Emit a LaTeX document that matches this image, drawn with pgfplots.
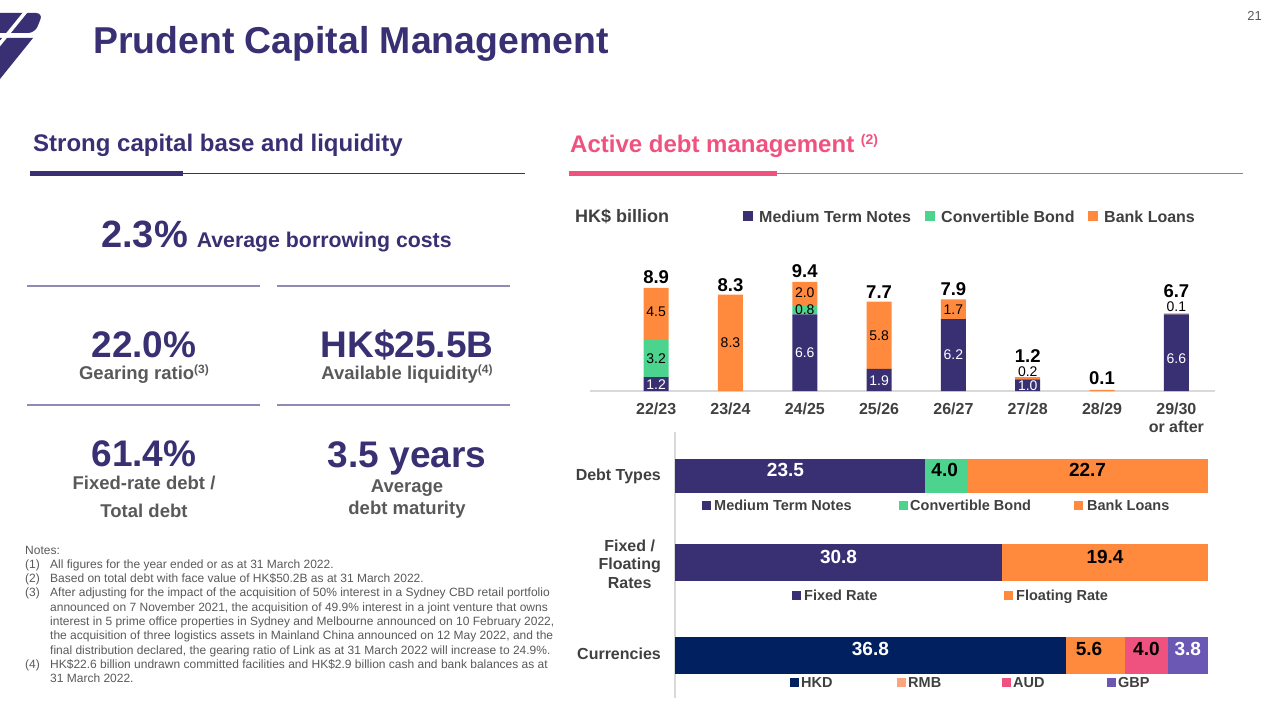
\documentclass[border=0pt]{standalone}
\usepackage{fontspec}
\setmainfont{Liberation Sans}
\usepackage{pgfplots}
\pgfplotsset{compat=1.18}
\definecolor{cpurple}{RGB}{56,48,115}
\definecolor{cpink}{RGB}{240,82,127}
\definecolor{cgreen}{RGB}{76,211,142}
\definecolor{corange}{RGB}{255,138,61}
\definecolor{csalmon}{RGB}{251,165,125}
\definecolor{cnavy}{RGB}{0,32,96}
\definecolor{cgbp}{RGB}{107,88,181}
\definecolor{tgray}{RGB}{64,64,64}
\definecolor{lgray}{RGB}{89,89,89}
\definecolor{sepc}{RGB}{143,139,181}
\definecolor{axgray}{RGB}{217,217,217}
\newcommand\myfs[2]{\fontsize{#1}{#2}\selectfont}
\begin{document}
\begin{tikzpicture}
\useasboundingbox (0,0) rectangle (1273pt,-714pt);
\begin{scope}[x=1pt,y=-1pt]
% logo
\fill[cpurple,rounded corners=7pt] (-12,13) -- (43,13) -- (35,33) -- (-12,33) -- cycle;
\fill[cpurple] (0,38) -- (33,38) -- (0,79) -- cycle;
\draw[white,line width=3.5pt] (28,9) -- (-2,46);
% page number
\node[anchor=base east,inner sep=0,text=lgray,font=\myfs{13}{13}] at (1262,21) {21};
% title
\node[anchor=base west,inner sep=0,text=cpurple,font=\myfs{37.4}{40}\bfseries] at (93,54) {Prudent Capital Management};
% section headings
\node[anchor=base west,inner sep=0,text=cpurple,font=\myfs{24}{26}\bfseries] at (33,152) {Strong capital base and liquidity};
\fill[cpurple] (30,171) rectangle (183,176);
\draw[cpurple,line width=1.2pt] (183,173.5) -- (525,173.5);
\node[anchor=base west,inner sep=0,text=cpink,font=\myfs{24}{26}\bfseries] at (570,153) {Active debt management \raisebox{8pt}{\myfs{14}{14}(2)}};
\fill[cpink] (569,171) rectangle (777,176);
\draw[cpink,line width=1.2pt] (777,173.5) -- (1243,173.5);
% left KPIs
\node[anchor=base west,inner sep=0,text=cpurple,font=\bfseries] at (101,247) {\myfs{38}{40}2.3\%\hspace{9pt}\myfs{21.3}{22}Average borrowing costs};
\foreach \yy in {286,405}{
  \draw[sepc,line width=1.5pt] (27,\yy) -- (260,\yy);
  \draw[sepc,line width=1.5pt] (277,\yy) -- (510,\yy);
}
\node[anchor=base,inner sep=0,text=cpurple,font=\myfs{37}{40}\bfseries] at (144,357) {22.0\%};
\node[anchor=base,inner sep=0,text=lgray,font=\myfs{18.5}{20}\bfseries] at (144,379) {Gearing ratio\raisebox{6pt}{\myfs{12}{12}(3)}};
\node[anchor=base,inner sep=0,text=cpurple,font=\myfs{37}{40}\bfseries] at (407,357) {HK\$25.5B};
\node[anchor=base,inner sep=0,text=lgray,font=\myfs{18.5}{20}\bfseries] at (407,379) {Available liquidity\raisebox{6pt}{\myfs{12}{12}(4)}};
\node[anchor=base,inner sep=0,text=cpurple,font=\myfs{37}{40}\bfseries] at (144,466) {61.4\%};
\node[anchor=base,inner sep=0,text=lgray,font=\myfs{18.5}{20}\bfseries] at (144,489) {Fixed-rate debt /};
\node[anchor=base,inner sep=0,text=lgray,font=\myfs{18.5}{20}\bfseries] at (144,517) {Total debt};
\node[anchor=base,inner sep=0,text=cpurple,font=\myfs{37}{40}\bfseries] at (407,467) {3.5 years};
\node[anchor=base,inner sep=0,text=lgray,font=\myfs{18.5}{20}\bfseries] at (407,492) {Average};
\node[anchor=base,inner sep=0,text=lgray,font=\myfs{18.5}{20}\bfseries] at (407,514) {debt maturity};
% notes
\begin{scope}[every node/.style={anchor=base west,inner sep=0,text=lgray,font=\myfs{12}{13}}]
\node at (25,554) {Notes:};
\node at (25,568.3) {(1)}; \node at (50,568.3) {All figures for the year ended or as at 31 March 2022.};
\node at (25,582.6) {(2)}; \node at (50,582.6) {Based on total debt with face value of HK\$50.2B as at 31 March 2022.};
\node at (25,596.9) {(3)}; \node at (50,596.9) {After adjusting for the impact of the acquisition of 50\% interest in a Sydney CBD retail portfolio};
\node at (50,611.2) {announced on 7 November 2021, the acquisition of 49.9\% interest in a joint venture that owns};
\node at (50,625.5) {interest in 5 prime office properties in Sydney and Melbourne announced on 10 February 2022,};
\node at (50,639.8) {the acquisition of three logistics assets in Mainland China announced on 12 May 2022, and the};
\node at (50,654.1) {final distribution declared, the gearing ratio of Link as at 31 March 2022 will increase to 24.9\%.};
\node at (25,668.4) {(4)}; \node at (50,668.4) {HK\$22.6 billion undrawn committed facilities and HK\$2.9 billion cash and bank balances as at};
\node at (50,682.7) {31 March 2022.};
\end{scope}
% right top header and legend
\node[anchor=base west,inner sep=0,text=tgray,font=\myfs{18}{20}\bfseries] at (575,222) {HK\$ billion};
\begin{scope}[every node/.style={anchor=base west,inner sep=0,text=tgray,font=\myfs{16}{18}\bfseries}]
\fill[cpurple] (743,211) rectangle (753,221); \node at (759,222) {Medium Term Notes};
\fill[cgreen] (925,211) rectangle (935,221); \node at (941,222) {Convertible Bond};
\fill[corange] (1088,211) rectangle (1098,221); \node at (1104,222) {Bank Loans};
\end{scope}
% bottom category labels
\node[anchor=east,inner sep=0,text=tgray,font=\myfs{16}{18}\bfseries] at (661,476) {Debt Types};
\node[anchor=east,inner sep=0,align=center,text=tgray,font=\myfs{16}{18.5}\bfseries] at (661,564) {Fixed /\\Floating\\Rates};
\node[anchor=east,inner sep=0,text=tgray,font=\myfs{16}{18}\bfseries] at (661,654) {Currencies};
\draw[axgray,line width=1.2pt] (675,432) -- (675,698);
% bottom legends
\begin{scope}[every node/.style={anchor=base west,inner sep=0,text=tgray,font=\myfs{14.5}{16}\bfseries}]
\fill[cpurple] (702,501) rectangle (711,510); \node at (714,510) {Medium Term Notes};
\fill[cgreen] (899,501) rectangle (908,510); \node at (910,510) {Convertible Bond};
\fill[corange] (1074,501) rectangle (1083,510); \node at (1087,510) {Bank Loans};
\fill[cpurple] (792,591) rectangle (801,600); \node at (804,600) {Fixed Rate};
\fill[corange] (1004,591) rectangle (1013,600); \node at (1016,600) {Floating Rate};
\fill[cnavy] (790,678) rectangle (799,687); \node at (801,687) {HKD};
\fill[csalmon] (897,678) rectangle (906,687); \node at (908,687) {RMB};
\fill[cpink] (1002,678) rectangle (1011,687); \node at (1013,687) {AUD};
\fill[cgbp] (1107,678) rectangle (1116,687); \node at (1118,687) {GBP};
\end{scope}
\end{scope}

% ---------- debt maturity profile ----------
\begin{axis}[
  at={(590pt,-391pt)}, anchor=south west,
  scale only axis, width=625pt, height=116pt,
  xmin=-0.89, xmax=7.52, ymin=0, ymax=10,
  ybar stacked, bar width=25pt,
  axis x line*=bottom, axis y line=none,
  x axis line style={draw=axgray,line width=1.5pt,-},
  xtick={0,...,7},
  xticklabels={22/23,23/24,24/25,25/26,26/27,27/28,28/29,{29/30\\or after}},
  major tick length=0pt,
  xticklabel style={align=center,font=\myfs{16}{18}\bfseries,text=tgray,yshift=-8pt},
  ytick=\empty,
  clip=false,
]
\addplot[fill=cpurple,draw=none] coordinates {(0,1.2) (1,0) (2,6.6) (3,1.9) (4,6.2) (5,1.0) (6,0) (7,6.6)};
\addplot[fill=cgreen,draw=none] coordinates {(0,3.2) (1,0) (2,0.8) (3,0) (4,0) (5,0) (6,0) (7,0)};
\addplot[fill=corange,draw=none] coordinates {(0,4.5) (1,8.3) (2,2.0) (3,5.8) (4,1.7) (5,0.2) (6,0.1) (7,0.1)};
\coordinate (a1) at (axis cs:0,0.55);
\coordinate (a2) at (axis cs:0,2.8);
\coordinate (a3) at (axis cs:0,6.85);
\coordinate (a4) at (axis cs:1,4.15);
\coordinate (a5) at (axis cs:2,3.3);
\coordinate (a6) at (axis cs:2,7.0);
\coordinate (a7) at (axis cs:2,8.5);
\coordinate (a8) at (axis cs:3,0.85);
\coordinate (a9) at (axis cs:3,4.8);
\coordinate (a10) at (axis cs:4,3.1);
\coordinate (a11) at (axis cs:4,7.05);
\coordinate (a12) at (axis cs:5,0.5);
\coordinate (a13) at (axis cs:5,1.2);
\coordinate (a14) at (axis cs:7,2.8);
\coordinate (a15) at (axis cs:7,6.7);
\coordinate (t0) at (axis cs:0,8.9);
\coordinate (t1) at (axis cs:1,8.3);
\coordinate (t2) at (axis cs:2,9.4);
\coordinate (t3) at (axis cs:3,7.7);
\coordinate (t4) at (axis cs:4,7.9);
\coordinate (t5) at (axis cs:5,1.2);
\coordinate (t6) at (axis cs:6,0.1);
\coordinate (t7) at (axis cs:7,6.7);
\end{axis}
\begin{scope}[every node/.style={font=\myfs{14}{14},inner sep=0}]
\node[white] at (a1) {1.2};
\node at (a2) {3.2};
\node at (a3) {4.5};
\node at (a4) {8.3};
\node[white] at (a5) {6.6};
\node at (a6) {0.8};
\node at (a7) {2.0};
\node[white] at (a8) {1.9};
\node at (a9) {5.8};
\node[white] at (a10) {6.2};
\node at (a11) {1.7};
\node[white] at (a12) {1.0};
\node[anchor=base,yshift=1pt] at (a13) {0.2};
\node[white] at (a14) {6.6};
\node[anchor=base,yshift=1.5pt] at (a15) {0.1};
\end{scope}
\begin{scope}[every node/.style={font=\myfs{18.5}{20}\bfseries,inner sep=0,anchor=base}]
\node[yshift=4pt] at (t0) {8.9};
\node[yshift=3pt] at (t1) {8.3};
\node[yshift=4pt] at (t2) {9.4};
\node[yshift=3.5pt] at (t3) {7.7};
\node[yshift=4pt] at (t4) {7.9};
\node[yshift=15pt] at (t5) {1.2};
\node[yshift=5.5pt] at (t6) {0.1};
\node[yshift=15.5pt] at (t7) {6.7};
\end{scope}

% ---------- debt types ----------
\begin{axis}[
  at={(675pt,-492.5pt)}, anchor=south west,
  scale only axis, width=533pt, height=34pt,
  xmin=0, xmax=50.2, ymin=-0.5, ymax=0.5,
  xbar stacked, bar width=34pt, hide axis, clip=false,
]
\addplot[fill=cpurple,draw=none] coordinates {(23.5,0)};
\addplot[fill=cgreen,draw=none] coordinates {(4.0,0)};
\addplot[fill=corange,draw=none] coordinates {(22.7,0)};
\coordinate (d1) at (axis cs:10.4,0);
\coordinate (d2) at (axis cs:25.4,0);
\coordinate (d3) at (axis cs:38.85,0);
\end{axis}

% ---------- fixed / floating ----------
\begin{axis}[
  at={(675pt,-581pt)}, anchor=south west,
  scale only axis, width=533pt, height=37pt,
  xmin=0, xmax=50.2, ymin=-0.5, ymax=0.5,
  xbar stacked, bar width=37pt, hide axis, clip=false,
]
\addplot[fill=cpurple,draw=none] coordinates {(30.8,0)};
\addplot[fill=corange,draw=none] coordinates {(19.4,0)};
\coordinate (f1) at (axis cs:15.4,0);
\coordinate (f2) at (axis cs:40.5,0);
\end{axis}

% ---------- currencies ----------
\begin{axis}[
  at={(675pt,-674pt)}, anchor=south west,
  scale only axis, width=533pt, height=37pt,
  xmin=0, xmax=50.2, ymin=-0.5, ymax=0.5,
  xbar stacked, bar width=37pt, hide axis, clip=false,
]
\addplot[fill=cnavy,draw=none] coordinates {(36.8,0)};
\addplot[fill=corange,draw=none] coordinates {(5.6,0)};
\addplot[fill=cpink,draw=none] coordinates {(4.0,0)};
\addplot[fill=cgbp,draw=none] coordinates {(3.8,0)};
\coordinate (c1) at (axis cs:18.4,0);
\coordinate (c2) at (axis cs:39.0,0);
\coordinate (c3) at (axis cs:44.4,0);
\coordinate (c4) at (axis cs:48.3,0);
\end{axis}
\begin{scope}[every node/.style={font=\myfs{19}{20}\bfseries,inner sep=0,yshift=6pt}]
\node[white] at (d1) {23.5};
\node at (d2) {4.0};
\node at (d3) {22.7};
\node[white] at (f1) {30.8};
\node at (f2) {19.4};
\node[white,yshift=1pt] at (c1) {36.8};
\node[yshift=1pt] at (c2) {5.6};
\node[yshift=1pt] at (c3) {4.0};
\node[white,yshift=1pt] at (c4) {3.8};
\end{scope}
\end{tikzpicture}
\end{document}
